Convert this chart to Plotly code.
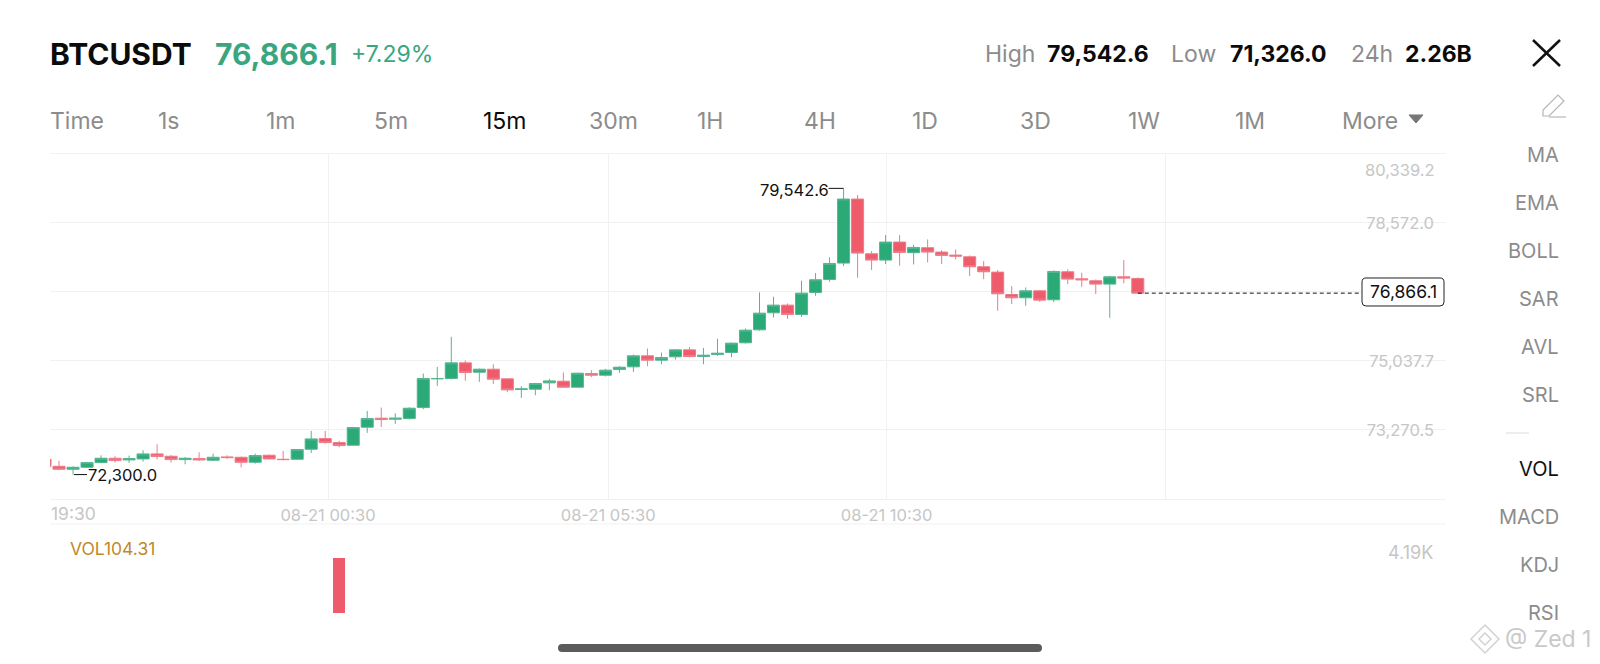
import pandas as pd
import plotly.graph_objects as go

# -------------------------------------------------------------------
# DATA
# -------------------------------------------------------------------
opens = [72520, 72341, 72264, 72315, 72435, 72546, 72503, 72529, 72657, 72597,
         72512, 72537, 72495, 72580, 72571, 72443, 72623, 72520, 72520, 72776,
         73049, 72947, 72879, 73340, 73570, 73545, 73562, 73843, 74578, 74586,
         74987, 74748, 74825, 74578, 74304, 74313, 74475, 74518, 74364, 74714,
         74671, 74816, 74885, 75167, 75056, 75141, 75320, 75150, 75201, 75252,
         75500, 75832, 76268, 76464, 76225, 76788, 77121, 77540, 79179, 77779,
         77617, 78078, 77805, 77933, 77822, 77745, 77702, 77446, 77309, 76737,
         76652, 76831, 76601, 77318, 77138, 77087, 77002, 77190, 77147]
highs = [72520, 72478, 72341, 72452, 72623, 72597, 72614, 72751, 72904, 72631,
         72580, 72700, 72665, 72623, 72589, 72665, 72640, 72734, 72776, 73246,
         73246, 72990, 73340, 73758, 73843, 73698, 73852, 74714, 74885, 75653,
         75047, 74842, 74953, 74586, 74390, 74475, 74578, 74740, 74731, 74800,
         74834, 74902, 75201, 75354, 75252, 75337, 75389, 75371, 75602, 75508,
         75867, 76789, 76678, 76507, 77087, 77283, 77685, 79452, 79281, 77847,
         78257, 78257, 78010, 78146, 77873, 77890, 77736, 77591, 77361, 76951,
         76917, 76848, 77352, 77378, 77292, 77121, 77215, 77617, 77173]
lows = [72341, 72239, 72128, 72298, 72418, 72435, 72426, 72460, 72512, 72435,
        72392, 72478, 72478, 72529, 72315, 72409, 72512, 72495, 72503, 72682,
        72921, 72827, 72870, 73195, 73348, 73425, 73536, 73801, 74398, 74560,
        74526, 74501, 74449, 74236, 74091, 74159, 74287, 74347, 74355, 74620,
        74637, 74731, 74757, 74902, 74953, 75073, 75124, 74953, 75167, 75132,
        75482, 75807, 76148, 76114, 76165, 76703, 77062, 77463, 77164, 77361,
        77514, 77472, 77506, 77557, 77514, 77634, 77207, 77130, 76319, 76490,
        76447, 76549, 76541, 77002, 76934, 76746, 76140, 77019, 76771]
closes = [72341, 72264, 72315, 72435, 72546, 72486, 72537, 72657, 72589, 72512,
          72546, 72503, 72571, 72563, 72443, 72614, 72529, 72512, 72768, 73041,
          72947, 72870, 73331, 73562, 73536, 73570, 73826, 74586, 74586, 74987,
          74740, 74825, 74569, 74296, 74321, 74458, 74526, 74364, 74723, 74671,
          74800, 74876, 75167, 75056, 75124, 75320, 75150, 75184, 75235, 75491,
          75824, 76259, 76464, 76225, 76771, 77113, 77531, 79179, 77796, 77617,
          78078, 77813, 77941, 77822, 77736, 77719, 77446, 77318, 76754, 76652,
          76831, 76592, 77326, 77130, 77113, 77002, 77190, 77156, 76771]

times = pd.date_range("2024-08-20 19:30", periods=len(closes), freq="15min")

vol_times = ["2024-08-21 00:45"]
vol_values = [4190]

price_ticks = [71503.3, 73270.5, 75037.7, 76804.8, 78572.0, 80339.2]
price_tick_text = ["", "73,270.5", "75,037.7", "", "78,572.0", ""]
# grid sits a touch right of the candle it names in the original
time_ticks = ["2024-08-21 00:33", "2024-08-21 05:33", "2024-08-21 10:31", "2024-08-21 15:30"]
time_tick_text = ["08-21 00:30", "08-21 05:30", "08-21 10:30", ""]

tabs = ["1s", "1m", "5m", "15m", "30m", "1H", "4H", "1D", "3D", "1W", "1M", "More"]
tab_x = [169, 281, 391, 504, 613, 710, 820, 925, 1035, 1144, 1250, 1370]
side_items = ["MA", "EMA", "BOLL", "SAR", "AVL", "SRL", "VOL", "MACD", "KDJ", "RSI"]
side_y = [155, 203, 251, 299, 347, 395, 469, 517, 565, 613]

# -------------------------------------------------------------------
# HELPERS
# -------------------------------------------------------------------
W, H = 1600, 664
FONT = "Inter"
GREEN, RED = "#2BAA78", "#EE5C6C"
GRID = "#f1f1f1"
GRAY = "#8c8c8c"
FAINT = "#c6c6c6"

def px(x):
    return x / W

def py(y):
    return 1 - y / H

annotations = []
shapes = []

def label(text, x, y, size, color, anchor="left", bold=False):
    annotations.append(dict(
        text=f"<b>{text}</b>" if bold else text,
        x=px(x), y=py(y), xref="paper", yref="paper",
        xanchor=anchor, yanchor="middle", showarrow=False,
        font=dict(family=FONT, size=size, color=color),
    ))

def pix_line(x0, y0, x1, y1, color, width):
    shapes.append(dict(type="line", xref="paper", yref="paper",
                       x0=px(x0), y0=py(y0), x1=px(x1), y1=py(y1),
                       line=dict(color=color, width=width)))

def pix_path(points, color, width, fill=None, close=False):
    d = "M " + " L ".join(f"{px(x):.5f},{py(y):.5f}" for x, y in points)
    if close:
        d += " Z"
    shapes.append(dict(type="path", xref="paper", yref="paper", path=d,
                       line=dict(color=color, width=width),
                       fillcolor=fill or "rgba(0,0,0,0)"))

def round_rect(x0, y0, x1, y1, r, color, width, fill):
    d = (f"M {px(x0 + r):.5f},{py(y0):.5f} L {px(x1 - r):.5f},{py(y0):.5f} "
         f"Q {px(x1):.5f},{py(y0):.5f} {px(x1):.5f},{py(y0 + r):.5f} "
         f"L {px(x1):.5f},{py(y1 - r):.5f} "
         f"Q {px(x1):.5f},{py(y1):.5f} {px(x1 - r):.5f},{py(y1):.5f} "
         f"L {px(x0 + r):.5f},{py(y1):.5f} "
         f"Q {px(x0):.5f},{py(y1):.5f} {px(x0):.5f},{py(y1 - r):.5f} "
         f"L {px(x0):.5f},{py(y0 + r):.5f} "
         f"Q {px(x0):.5f},{py(y0):.5f} {px(x0 + r):.5f},{py(y0):.5f} Z")
    shapes.append(dict(type="path", xref="paper", yref="paper", path=d,
                       line=dict(color=color, width=width), fillcolor=fill))

# -------------------------------------------------------------------
# TRACES
# -------------------------------------------------------------------
fig = go.Figure()

fig.add_trace(go.Candlestick(
    x=times, open=opens, high=highs, low=lows, close=closes,
    whiskerwidth=0,
    increasing=dict(fillcolor=GREEN, line=dict(color="#55B592", width=1)),
    decreasing=dict(fillcolor=RED, line=dict(color="#EC7C88", width=1)),
    hoverinfo="skip", showlegend=False,
    xaxis="x", yaxis="y",
))

fig.add_trace(go.Bar(
    x=vol_times, y=vol_values, width=13.4 * 60000,
    marker=dict(color=RED, line=dict(width=0)),
    hoverinfo="skip", showlegend=False,
    xaxis="x2", yaxis="y2",
))

# -------------------------------------------------------------------
# HEADER AND SIDE MENU
# -------------------------------------------------------------------
label("BTCUSDT", 48, 54, 30, "#0b0b0b", bold=True)
label("76,866.1", 213, 54, 30, "#3AA67F", bold=True)
label("+7.29%", 349, 54, 23, "#3AA67F")
label("High", 983, 54, 23, GRAY)
label("79,542.6", 1045, 54, 23, "#0b0b0b", bold=True)
label("Low", 1169, 54, 23, GRAY)
label("71,326.0", 1228, 54, 23, "#0b0b0b", bold=True)
label("24h", 1349, 54, 23, GRAY)
label("2.26B", 1403, 54, 23, "#0b0b0b", bold=True)

pix_line(1533, 40, 1560, 66, "#111111", 2.5)
pix_line(1560, 40, 1533, 66, "#111111", 2.5)
pix_path([(1543, 116), (1543, 110), (1558, 95), (1564, 101), (1549, 116)], "#b5b5b5", 1.2, close=True)
pix_line(1549, 117, 1566, 117, "#b5b5b5", 1.2)

label("Time", 48, 121, 23, GRAY)
for name, x in zip(tabs, tab_x):
    label(name, x, 121, 23, "#0b0b0b" if name == "15m" else GRAY, anchor="center")
pix_path([(1409, 115), (1423, 115), (1416, 123)], "#777777", 1, fill="#777777", close=True)

for name, y in zip(side_items, side_y):
    label(name, 1561, y, 20, "#111111" if name == "VOL" else GRAY, anchor="right")
pix_line(1506, 433, 1529, 433, "#dddddd", 1)

# -------------------------------------------------------------------
# CHART LABELS
# -------------------------------------------------------------------
label("80,339.2", 1437, 170.5, 16.5, FAINT, anchor="right")
label("19:30", 49, 513, 17.5, FAINT)
label("VOL104.31", 68, 548, 17.5, "#C08A2B")
label("4.19K", 1435, 552, 18, FAINT, anchor="right")

hi_i = highs.index(max(highs))
lo_i = lows.index(min(lows))
annotations.append(dict(text="79,542.6", x=times[hi_i], y=highs[hi_i], xref="x", yref="y",
                        xanchor="right", yanchor="middle", xshift=-13, yshift=-2, showarrow=False,
                        font=dict(family=FONT, size=16.5, color="#111111")))
annotations.append(dict(text="72,300.0", x=times[lo_i], y=lows[lo_i], xref="x", yref="y",
                        xanchor="left", yanchor="middle", xshift=13, showarrow=False,
                        font=dict(family=FONT, size=16.5, color="#111111")))
shapes.append(dict(type="line", xref="x", yref="y", xsizemode="pixel", xanchor=times[hi_i],
                   x0=-15, x1=0, y0=highs[hi_i], y1=highs[hi_i], line=dict(color="#111111", width=1)))
shapes.append(dict(type="line", xref="x", yref="y", xsizemode="pixel", xanchor=times[lo_i],
                   x0=1, x1=14, y0=lows[lo_i], y1=lows[lo_i], line=dict(color="#111111", width=1)))

# last price line and tag
shapes.append(dict(type="line", xref="x", yref="y", x0=times[-1], x1="2024-08-21 18:59",
                   y0=closes[-1], y1=closes[-1], line=dict(color="#111111", width=1, dash="4px,3px")))
round_rect(1362, 278, 1444, 306, 4, "#222222", 1, "#ffffff")
label("76,866.1", 1403, 292, 17.5, "#111111", anchor="center")

# volume panel top line
pix_line(50, 524, 1446, 524, GRID, 1)

# bottom bar and watermark
round_rect(558, 644, 1042, 652, 4, "#5c5c5c", 0, "#5c5c5c")
label("@ Zed 1", 1503, 639, 23, "#c9c9c9")
pix_path([(1485, 625), (1499, 639), (1485, 653), (1471, 639)], "#d2d2d2", 1.5, close=True)
pix_path([(1485, 633), (1491, 639), (1485, 645), (1479, 639)], "#d2d2d2", 1.5, close=True)

# -------------------------------------------------------------------
# LAYOUT
# -------------------------------------------------------------------
x_range = ["2024-08-20 19:35:21", "2024-08-21 20:30"]

fig.update_layout(
    width=W, height=H,
    margin=dict(l=0, r=0, t=0, b=0),
    paper_bgcolor="#ffffff", plot_bgcolor="#ffffff",
    font=dict(family=FONT, color=FAINT, size=16),
    boxgap=0.14, boxgroupgap=0, bargap=0,
    annotations=annotations, shapes=shapes,
    xaxis=dict(
        domain=[px(50), px(1446)], range=x_range, type="date", anchor="y",
        rangeslider=dict(visible=False),
        tickmode="array", tickvals=time_ticks, ticktext=time_tick_text,
        showgrid=True, gridcolor=GRID, gridwidth=1, zeroline=False,
        showline=True, linecolor=GRID, mirror=True, ticks="",
        tickfont=dict(family=FONT, size=16.5, color=FAINT), ticklabelstandoff=1,
    ),
    yaxis=dict(
        domain=[py(499), py(153.7)], range=[71503.3, 80339.2], anchor="x", side="right",
        tickmode="array", tickvals=price_ticks, ticktext=price_tick_text,
        showgrid=True, gridcolor=GRID, gridwidth=1, zeroline=False, showline=False, ticks="",
        ticklabelposition="inside", ticklabelstandoff=9,
        tickfont=dict(family=FONT, size=16.5, color=FAINT),
    ),
    xaxis2=dict(domain=[px(50), px(1446)], range=x_range, type="date", anchor="y2",
                visible=False, showgrid=False),
    yaxis2=dict(domain=[py(613), py(524)], range=[0, 6780], anchor="x2",
                visible=False, showgrid=False),
)

# the page's default body margin would push the figure 8px off
fig.write_html("out.html", config={"displayModeBar": False},
               post_script="document.body.style.margin = '0';")
